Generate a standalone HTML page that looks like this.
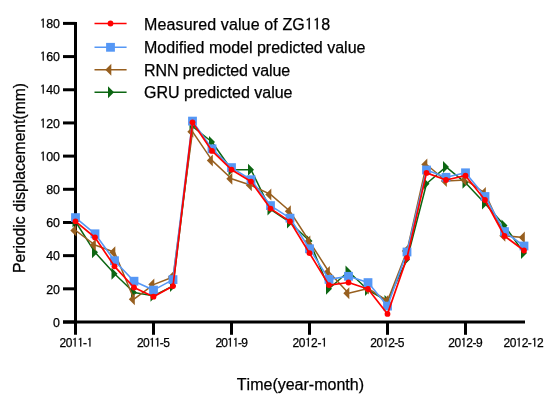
<!DOCTYPE html>
<html><head><meta charset="utf-8"><title>Periodic displacement chart</title>
<style>html,body{margin:0;padding:0;background:#fff;} .nk{font-kerning:none;} text{stroke:#000;stroke-width:0.25px;} svg{display:block;}</style>
</head><body>
<svg width="550" height="399" viewBox="0 0 550 399">
<rect width="550" height="399" fill="#fff"/>
<g stroke="#000" stroke-width="3" fill="none">
<line x1="75.5" y1="21.9" x2="75.5" y2="334.8"/>
<line x1="63" y1="322.0" x2="525" y2="322.0"/>
<line x1="63" y1="322" x2="75.5" y2="322"/>
<line x1="63" y1="288.82" x2="75.5" y2="288.82"/>
<line x1="63" y1="255.64" x2="75.5" y2="255.64"/>
<line x1="63" y1="222.47" x2="75.5" y2="222.47"/>
<line x1="63" y1="189.29" x2="75.5" y2="189.29"/>
<line x1="63" y1="156.11" x2="75.5" y2="156.11"/>
<line x1="63" y1="122.93" x2="75.5" y2="122.93"/>
<line x1="63" y1="89.76" x2="75.5" y2="89.76"/>
<line x1="63" y1="56.58" x2="75.5" y2="56.58"/>
<line x1="63" y1="23.4" x2="75.5" y2="23.4"/>
<line x1="153.5" y1="322.0" x2="153.5" y2="334.8"/>
<line x1="231.5" y1="322.0" x2="231.5" y2="334.8"/>
<line x1="309.5" y1="322.0" x2="309.5" y2="334.8"/>
<line x1="387.5" y1="322.0" x2="387.5" y2="334.8"/>
<line x1="465.5" y1="322.0" x2="465.5" y2="334.8"/>
</g>
<g font-family="Liberation Sans, Arial, sans-serif" font-size="12.4" fill="#000" text-anchor="end">
<text x="60" y="326.7">0</text>
<text x="60" y="293.52">20</text>
<text x="60" y="260.34">40</text>
<text x="60" y="227.17">60</text>
<text x="60" y="193.99">80</text>
<text x="60" y="160.81"><tspan font-family="IPAGothic, Liberation Sans, sans-serif">1</tspan>00</text>
<text x="60" y="127.63"><tspan font-family="IPAGothic, Liberation Sans, sans-serif">1</tspan>20</text>
<text x="60" y="94.46"><tspan font-family="IPAGothic, Liberation Sans, sans-serif">1</tspan>40</text>
<text x="60" y="61.28"><tspan font-family="IPAGothic, Liberation Sans, sans-serif">1</tspan>60</text>
<text x="60" y="28.1"><tspan font-family="IPAGothic, Liberation Sans, sans-serif">1</tspan>80</text>
</g>
<g font-family="Liberation Sans, Arial, sans-serif" font-size="12" fill="#000">
<text x="59.52" y="346.8" letter-spacing="-0.45">20<tspan font-family="IPAGothic, Liberation Sans, sans-serif">11</tspan>-<tspan font-family="IPAGothic, Liberation Sans, sans-serif">1</tspan></text>
<text x="137.12" y="346.8" letter-spacing="-0.66">20<tspan font-family="IPAGothic, Liberation Sans, sans-serif">11</tspan>-5</text>
<text x="215.38" y="346.8" letter-spacing="-0.69">20<tspan font-family="IPAGothic, Liberation Sans, sans-serif">11</tspan>-9</text>
<text x="292.38" y="346.8" letter-spacing="-0.25">20<tspan font-family="IPAGothic, Liberation Sans, sans-serif">1</tspan>2-<tspan font-family="IPAGothic, Liberation Sans, sans-serif">1</tspan></text>
<text x="370.26" y="346.8" letter-spacing="-0.49">20<tspan font-family="IPAGothic, Liberation Sans, sans-serif">1</tspan>2-5</text>
<text x="448.26" y="346.8" letter-spacing="-0.46">20<tspan font-family="IPAGothic, Liberation Sans, sans-serif">1</tspan>2-9</text>
<text x="503.6" y="346.8" letter-spacing="-0.44">20<tspan font-family="IPAGothic, Liberation Sans, sans-serif">1</tspan>2-<tspan font-family="IPAGothic, Liberation Sans, sans-serif">1</tspan>2</text>
</g>
<text x="300.4" y="390.2" font-family="Liberation Sans, Arial, sans-serif" font-size="16" text-anchor="middle" fill="#000" class="nk">Time(year-month)</text>
<text transform="translate(25.1,178) rotate(-90)" x="0" y="0" font-family="Liberation Sans, Arial, sans-serif" font-size="15.7" text-anchor="middle" fill="#000" class="nk">Periodic displacement(mm)</text>
<polyline points="75.5,221.5 95,252.3 114.5,273.8 134,292.5 153.5,295.8 173,286 192.5,126.5 212,142 231.5,169.7 251,169.7 270.5,209.5 290,222.5 309.5,241 329,288.8 348.5,271.5 368,290 387.5,301 407,259.5 426.5,183.8 446,166.9 465.5,182.8 485,203.5 504.5,225.5 524,253" fill="none" stroke="#0c6612" stroke-width="1.5" stroke-linejoin="round"/>
<polygon points="78.5,221.5 72.5,215.5 72.5,227.5" fill="#0c6612"/>
<polygon points="98,252.3 92,246.3 92,258.3" fill="#0c6612"/>
<polygon points="117.5,273.8 111.5,267.8 111.5,279.8" fill="#0c6612"/>
<polygon points="137,292.5 131,286.5 131,298.5" fill="#0c6612"/>
<polygon points="156.5,295.8 150.5,289.8 150.5,301.8" fill="#0c6612"/>
<polygon points="176,286 170,280 170,292" fill="#0c6612"/>
<polygon points="195.5,126.5 189.5,120.5 189.5,132.5" fill="#0c6612"/>
<polygon points="215,142 209,136 209,148" fill="#0c6612"/>
<polygon points="234.5,169.7 228.5,163.7 228.5,175.7" fill="#0c6612"/>
<polygon points="254,169.7 248,163.7 248,175.7" fill="#0c6612"/>
<polygon points="273.5,209.5 267.5,203.5 267.5,215.5" fill="#0c6612"/>
<polygon points="293,222.5 287,216.5 287,228.5" fill="#0c6612"/>
<polygon points="312.5,241 306.5,235 306.5,247" fill="#0c6612"/>
<polygon points="332,288.8 326,282.8 326,294.8" fill="#0c6612"/>
<polygon points="351.5,271.5 345.5,265.5 345.5,277.5" fill="#0c6612"/>
<polygon points="371,290 365,284 365,296" fill="#0c6612"/>
<polygon points="390.5,301 384.5,295 384.5,307" fill="#0c6612"/>
<polygon points="410,259.5 404,253.5 404,265.5" fill="#0c6612"/>
<polygon points="429.5,183.8 423.5,177.8 423.5,189.8" fill="#0c6612"/>
<polygon points="449,166.9 443,160.9 443,172.9" fill="#0c6612"/>
<polygon points="468.5,182.8 462.5,176.8 462.5,188.8" fill="#0c6612"/>
<polygon points="488,203.5 482,197.5 482,209.5" fill="#0c6612"/>
<polygon points="507.5,225.5 501.5,219.5 501.5,231.5" fill="#0c6612"/>
<polygon points="527,253 521,247 521,259" fill="#0c6612"/>
<polyline points="75.5,230.4 95,245 114.5,252.2 134,299.2 153.5,284.6 173,277 192.5,131.7 212,160.4 231.5,178.8 251,185.3 270.5,194.4 290,211.3 309.5,241.5 329,272 348.5,293.2 368,288.5 387.5,301 407,251 426.5,164.5 446,181 465.5,180 485,193 504.5,235.8 524,237.6" fill="none" stroke="#975f1f" stroke-width="1.5" stroke-linejoin="round"/>
<polygon points="70.3,230.4 76.3,224.4 76.3,236.4" fill="#975f1f"/>
<polygon points="89.8,245 95.8,239 95.8,251" fill="#975f1f"/>
<polygon points="109.3,252.2 115.3,246.2 115.3,258.2" fill="#975f1f"/>
<polygon points="128.8,299.2 134.8,293.2 134.8,305.2" fill="#975f1f"/>
<polygon points="148.3,284.6 154.3,278.6 154.3,290.6" fill="#975f1f"/>
<polygon points="167.8,277 173.8,271 173.8,283" fill="#975f1f"/>
<polygon points="187.3,131.7 193.3,125.7 193.3,137.7" fill="#975f1f"/>
<polygon points="206.8,160.4 212.8,154.4 212.8,166.4" fill="#975f1f"/>
<polygon points="226.3,178.8 232.3,172.8 232.3,184.8" fill="#975f1f"/>
<polygon points="245.8,185.3 251.8,179.3 251.8,191.3" fill="#975f1f"/>
<polygon points="265.3,194.4 271.3,188.4 271.3,200.4" fill="#975f1f"/>
<polygon points="284.8,211.3 290.8,205.3 290.8,217.3" fill="#975f1f"/>
<polygon points="304.3,241.5 310.3,235.5 310.3,247.5" fill="#975f1f"/>
<polygon points="323.8,272 329.8,266 329.8,278" fill="#975f1f"/>
<polygon points="343.3,293.2 349.3,287.2 349.3,299.2" fill="#975f1f"/>
<polygon points="362.8,288.5 368.8,282.5 368.8,294.5" fill="#975f1f"/>
<polygon points="382.3,301 388.3,295 388.3,307" fill="#975f1f"/>
<polygon points="401.8,251 407.8,245 407.8,257" fill="#975f1f"/>
<polygon points="421.3,164.5 427.3,158.5 427.3,170.5" fill="#975f1f"/>
<polygon points="440.8,181 446.8,175 446.8,187" fill="#975f1f"/>
<polygon points="460.3,180 466.3,174 466.3,186" fill="#975f1f"/>
<polygon points="479.8,193 485.8,187 485.8,199" fill="#975f1f"/>
<polygon points="499.3,235.8 505.3,229.8 505.3,241.8" fill="#975f1f"/>
<polygon points="518.8,237.6 524.8,231.6 524.8,243.6" fill="#975f1f"/>
<polyline points="75.5,217.6 95,233.8 114.5,260.7 134,281.2 153.5,290.1 173,279.6 192.5,121.1 212,148.8 231.5,167.6 251,179.7 270.5,205.6 290,218.2 309.5,248.8 329,279.4 348.5,276.3 368,282.6 387.5,306.1 407,252 426.5,170 446,177.3 465.5,172.8 485,196.5 504.5,231.6 524,246" fill="none" stroke="#5597f5" stroke-width="1.6" stroke-linejoin="round"/>
<rect x="71.1" y="213.2" width="8.8" height="8.8" fill="#5597f5"/>
<rect x="90.6" y="229.4" width="8.8" height="8.8" fill="#5597f5"/>
<rect x="110.1" y="256.3" width="8.8" height="8.8" fill="#5597f5"/>
<rect x="129.6" y="276.8" width="8.8" height="8.8" fill="#5597f5"/>
<rect x="149.1" y="285.7" width="8.8" height="8.8" fill="#5597f5"/>
<rect x="168.6" y="275.2" width="8.8" height="8.8" fill="#5597f5"/>
<rect x="188.1" y="116.7" width="8.8" height="8.8" fill="#5597f5"/>
<rect x="207.6" y="144.4" width="8.8" height="8.8" fill="#5597f5"/>
<rect x="227.1" y="163.2" width="8.8" height="8.8" fill="#5597f5"/>
<rect x="246.6" y="175.3" width="8.8" height="8.8" fill="#5597f5"/>
<rect x="266.1" y="201.2" width="8.8" height="8.8" fill="#5597f5"/>
<rect x="285.6" y="213.8" width="8.8" height="8.8" fill="#5597f5"/>
<rect x="305.1" y="244.4" width="8.8" height="8.8" fill="#5597f5"/>
<rect x="324.6" y="275" width="8.8" height="8.8" fill="#5597f5"/>
<rect x="344.1" y="271.9" width="8.8" height="8.8" fill="#5597f5"/>
<rect x="363.6" y="278.2" width="8.8" height="8.8" fill="#5597f5"/>
<rect x="383.1" y="301.7" width="8.8" height="8.8" fill="#5597f5"/>
<rect x="402.6" y="247.6" width="8.8" height="8.8" fill="#5597f5"/>
<rect x="422.1" y="165.6" width="8.8" height="8.8" fill="#5597f5"/>
<rect x="441.6" y="172.9" width="8.8" height="8.8" fill="#5597f5"/>
<rect x="461.1" y="168.4" width="8.8" height="8.8" fill="#5597f5"/>
<rect x="480.6" y="192.1" width="8.8" height="8.8" fill="#5597f5"/>
<rect x="500.1" y="227.2" width="8.8" height="8.8" fill="#5597f5"/>
<rect x="519.6" y="241.6" width="8.8" height="8.8" fill="#5597f5"/>
<polyline points="75.5,221.3 95,237.5 114.5,266.3 134,287.5 153.5,296.7 173,286.1 192.5,122.3 212,150.9 231.5,169.7 251,181.6 270.5,208.6 290,221.4 309.5,253.2 329,285.1 348.5,282.5 368,289 387.5,313.9 407,257.8 426.5,172.9 446,180 465.5,175.7 485,200 504.5,236 524,250.5" fill="none" stroke="#ff0000" stroke-width="1.7" stroke-linejoin="round"/>
<circle cx="75.5" cy="221.3" r="2.9" fill="#ff0000"/>
<circle cx="95" cy="237.5" r="2.9" fill="#ff0000"/>
<circle cx="114.5" cy="266.3" r="2.9" fill="#ff0000"/>
<circle cx="134" cy="287.5" r="2.9" fill="#ff0000"/>
<circle cx="153.5" cy="296.7" r="2.9" fill="#ff0000"/>
<circle cx="173" cy="286.1" r="2.9" fill="#ff0000"/>
<circle cx="192.5" cy="122.3" r="2.9" fill="#ff0000"/>
<circle cx="212" cy="150.9" r="2.9" fill="#ff0000"/>
<circle cx="231.5" cy="169.7" r="2.9" fill="#ff0000"/>
<circle cx="251" cy="181.6" r="2.9" fill="#ff0000"/>
<circle cx="270.5" cy="208.6" r="2.9" fill="#ff0000"/>
<circle cx="290" cy="221.4" r="2.9" fill="#ff0000"/>
<circle cx="309.5" cy="253.2" r="2.9" fill="#ff0000"/>
<circle cx="329" cy="285.1" r="2.9" fill="#ff0000"/>
<circle cx="348.5" cy="282.5" r="2.9" fill="#ff0000"/>
<circle cx="368" cy="289" r="2.9" fill="#ff0000"/>
<circle cx="387.5" cy="313.9" r="2.9" fill="#ff0000"/>
<circle cx="407" cy="257.8" r="2.9" fill="#ff0000"/>
<circle cx="426.5" cy="172.9" r="2.9" fill="#ff0000"/>
<circle cx="446" cy="180" r="2.9" fill="#ff0000"/>
<circle cx="465.5" cy="175.7" r="2.9" fill="#ff0000"/>
<circle cx="485" cy="200" r="2.9" fill="#ff0000"/>
<circle cx="504.5" cy="236" r="2.9" fill="#ff0000"/>
<circle cx="524" cy="250.5" r="2.9" fill="#ff0000"/>
<line x1="94.5" y1="23.5" x2="126.6" y2="23.5" stroke="#ff0000" stroke-width="1.5"/>
<circle cx="110.5" cy="23.5" r="2.9" fill="#ff0000"/>
<text x="144" y="29.6" font-family="Liberation Sans, Arial, sans-serif" font-size="16" fill="#000" class="nk" letter-spacing="0.13">Measured value of ZG<tspan font-family="IPAGothic, Liberation Sans, sans-serif">11</tspan>8</text>
<line x1="94.5" y1="47.3" x2="126.6" y2="47.3" stroke="#5597f5" stroke-width="1.5"/>
<rect x="106.1" y="42.9" width="8.8" height="8.8" fill="#5597f5"/>
<text x="144" y="53" font-family="Liberation Sans, Arial, sans-serif" font-size="16" fill="#000" class="nk">Modified model predicted value</text>
<line x1="94.5" y1="69.8" x2="126.6" y2="69.8" stroke="#975f1f" stroke-width="1.5"/>
<polygon points="105.3,69.8 111.3,63.8 111.3,75.8" fill="#975f1f"/>
<text x="144" y="76" font-family="Liberation Sans, Arial, sans-serif" font-size="16" fill="#000" class="nk" letter-spacing="-0.08">RNN predicted value</text>
<line x1="94.5" y1="92.3" x2="126.6" y2="92.3" stroke="#0c6612" stroke-width="1.5"/>
<polygon points="114,92.3 108,86.3 108,98.3" fill="#0c6612"/>
<text x="144" y="98" font-family="Liberation Sans, Arial, sans-serif" font-size="16" fill="#000" class="nk">GRU predicted value</text>
</svg>
</body></html>
